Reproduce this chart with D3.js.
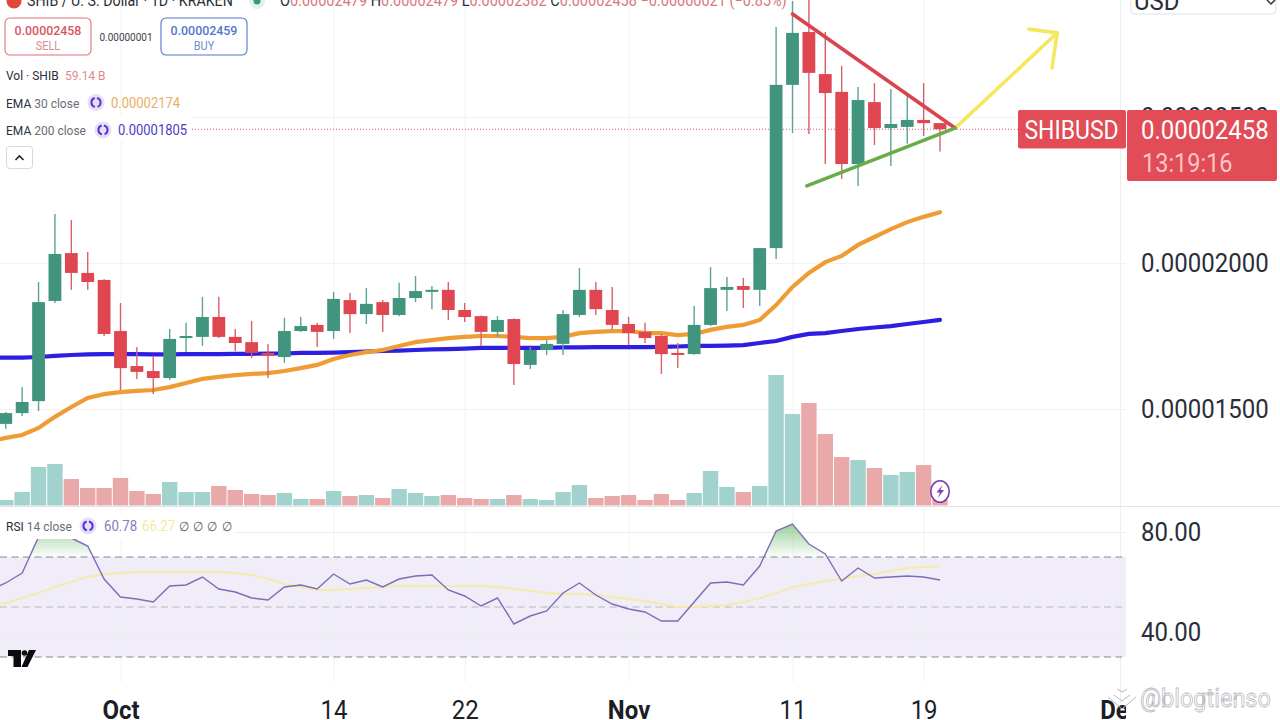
<!DOCTYPE html>
<html><head><meta charset="utf-8">
<script src="https://cdn.jsdelivr.net/npm/d3@7"></script>
<style>
html,body{margin:0;padding:0;background:#fff;overflow:hidden}
svg{display:block}
text{font-family:Roboto,"Liberation Sans",sans-serif;transform-box:fill-box;transform-origin:center;transform:scaleY(1.1)}
</style></head><body>
<svg id="c" width="1280" height="720"></svg>
<script>
// Prices are in units of 0.00000001 USD. First entry (23 Sep) sits just off the left edge.
const firstDay = "2024-09-23", lastDay = "2024-11-21";
const opens  = [1420,1449,1486,1527,1870,2034,1966,1942,1767,1647,1630,1606,1743,1747,1815,1747,1729,1692,1678,1767,1788,1767,1873,1825,1866,1822,1880,1901,1908,1839,1818,1764,1808,1651,1702,1723,1822,1908,1839,1791,1764,1750,1692,1688,1788,1908,1921,1908,2051,2610,2791,2647,2586,2339,2551,2462,2466,2490,2479];
const highs  = [1460,1490,1575,1935,2168,2147,2038,1944,1863,1712,1682,1774,1795,1884,1884,1774,1801,1723,1812,1815,1795,1901,1897,1914,1873,1932,1955,1921,1935,1863,1820,1818,1810,1712,1736,1839,1983,1935,1918,1815,1795,1757,1726,1853,1986,1952,1949,2051,2808,2897,2918,2791,2675,2603,2616,2596,2582,2616,2479];
const lows   = [1400,1432,1476,1493,1863,1908,1908,1750,1565,1603,1551,1599,1695,1716,1743,1699,1675,1606,1658,1764,1712,1740,1760,1791,1764,1818,1866,1842,1805,1798,1716,1747,1582,1637,1685,1685,1815,1822,1771,1719,1726,1620,1640,1686,1784,1836,1846,1853,2014,2445,2442,2339,2288,2264,2404,2332,2408,2435,2382];
const closes = [1449,1486,1524,1866,2031,1966,1935,1757,1640,1627,1606,1740,1750,1815,1747,1726,1692,1682,1767,1784,1764,1877,1825,1860,1822,1880,1904,1908,1839,1815,1764,1805,1654,1702,1723,1825,1908,1842,1788,1760,1743,1688,1685,1788,1914,1918,1908,2051,2610,2788,2651,2582,2339,2558,2462,2476,2490,2479,2458];
const volumes= [59,59,145,414,446,285,188,188,296,156,124,253,145,145,210,167,124,113,134,70,70,156,102,113,81,177,134,102,113,81,70,70,113,70,59,145,220,81,102,113,59,124,59,134,371,199,145,210,1403,984,1102,769,521,489,403,328,360,435,59.14];
const ema30  = [1390,1401,1411,1435,1473,1507,1538,1551,1558,1562,1565,1575,1589,1603,1610,1616,1620,1623,1630,1640,1651,1671,1685,1695,1702,1716,1729,1736,1743,1747,1750,1750,1747,1743,1743,1747,1760,1764,1767,1767,1760,1760,1753,1757,1771,1781,1788,1805,1856,1918,1966,2003,2024,2062,2089,2116,2140,2158,2174];
const ema200 = [1676,1676,1676,1678,1682,1685,1687,1688,1688,1688,1687,1687,1688,1688,1688,1689,1689,1690,1690,1692,1692,1693,1695,1697,1699,1700,1702,1704,1705,1707,1709,1709,1709,1709,1709,1711,1711,1712,1712,1712,1712,1713,1714,1716,1716,1717,1719,1726,1733,1747,1757,1760,1767,1774,1779,1784,1791,1798,1805];
const rsi    = [56.8,59.6,63.6,78,78.8,77.6,74.4,61.2,54,53.2,52,58.4,58.8,62,57.2,56,53.6,52.8,58,58.8,57.2,63.2,59.2,60.8,58,61.2,62.4,62.8,56.8,54.4,50.4,53.6,43.2,46.4,48.4,55.6,59.6,54.8,51.2,49.2,48,44.4,44.4,52,59.6,60,58.8,66.4,80.4,83.2,75.2,71.2,60.4,65.6,61.6,62,62.4,62,60.78];
const rsiMa  = [50.4,51.6,53.6,55.6,58,60,62,63.2,63.6,64,64,64,64,64,64,63.6,62.8,61.2,59.2,58,56.8,56.8,57.2,57.6,58,58.4,58.4,58.4,58.4,58.4,58.4,58,57.2,56.4,55.6,55.2,55.2,54.8,54,53.2,52.4,51.2,50,50,50.4,50.8,52,53.6,55.6,58,59.2,60.4,61.2,62.4,63.2,64.4,65.6,66,66.27];

const priceTicks = [1500,2000,2500];
const rsiTicks = [40,80];
const rsiBands = [30,50,70];
const monthTicks = ["2024-10-01","2024-11-01","2024-12-01"];
const dayTicks = ["2024-10-14","2024-10-22","2024-11-11","2024-11-19"];
const lastPrice = 2458;
// Hand-drawn trend annotations: [time, price]
const resistanceLine = [["2024-11-11T00:00Z",2853],["2024-11-20T22:00Z",2462]];
const supportLine = [["2024-11-11T21:00Z",2264],["2024-11-20T22:00Z",2462]];
const breakoutLine = [["2024-11-20T22:00Z",2462],["2024-11-27T03:30Z",2788]];
const arrowHead = [["2024-11-25T10:00Z",2801],["2024-11-27T03:30Z",2788],["2024-11-26T20:00Z",2668]];

const dates = d3.utcDay.range(new Date(firstDay+"T00:00Z"), new Date(lastDay+"T00:00Z"));
const candles = dates.map((d,i)=>({d,o:opens[i],h:highs[i],l:lows[i],c:closes[i],v:volumes[i]}));
const T = s => new Date(s.length>10 ? s : s+"T00:00Z");

const plotRight = 1126;
const x = d3.scaleUtc().domain([T("2024-10-01"),T("2024-11-11")]).range([120.5,792.5]);
const y = d3.scaleLinear().domain([1500,2000]).range([409,263]);
const yVol = d3.scaleLinear().domain([0,1403]).range([505.5,375]);
const yRsi = d3.scaleLinear().domain([30,70]).range([657,557]);

const GREEN="#41957f",RED="#e0464f",GWICK="#5da493",RWICK="#d8606b",VG="#a2d2cd",VR="#eaa9a9";
const INK="#2a2e39",MUTED="#6a6d78",GRID="#f2f2f4";

const svg = d3.select("#c");
const defs = svg.append("defs");
defs.append("clipPath").attr("id","plot").append("rect").attr("x",0).attr("y",0).attr("width",plotRight).attr("height",506);
defs.append("clipPath").attr("id","labels").append("rect").attr("x",0).attr("y",680).attr("width",plotRight).attr("height",40);
defs.append("clipPath").attr("id","ob").append("rect").attr("x",0).attr("y",515).attr("width",plotRight).attr("height",yRsi(70)-515);
const grad = defs.append("linearGradient").attr("id","obFill")
  .attr("gradientUnits","userSpaceOnUse").attr("x1",0).attr("x2",0).attr("y1",yRsi(83)).attr("y2",yRsi(70));
grad.append("stop").attr("offset",0).attr("stop-color","#8cc98c").attr("stop-opacity",.85);
grad.append("stop").attr("offset",1).attr("stop-color","#8cc98c").attr("stop-opacity",0.03);

// RSI band
svg.append("rect").attr("x",0).attr("width",plotRight).attr("y",yRsi(70)).attr("height",yRsi(30)-yRsi(70)).attr("fill","#f0ecf8");

// grids
const allTicks = monthTicks.concat(dayTicks).map(T).filter(d=>+d<+T("2024-12-01"));
const gridV = svg.append("g").attr("transform","translate(0,682)")
  .call(d3.axisBottom(x).tickValues(allTicks).tickSize(-682).tickFormat(""));
gridV.select(".domain").remove();
gridV.selectAll("line").attr("stroke",GRID).attr("stroke-width",1);
const gridP = svg.append("g").attr("transform",`translate(${plotRight},0)`)
  .call(d3.axisLeft(y).tickValues(priceTicks).tickSize(plotRight).tickFormat(""));
gridP.select(".domain").remove(); gridP.selectAll("line").attr("stroke",GRID);
const gridR = svg.append("g").attr("transform",`translate(${plotRight},0)`)
  .call(d3.axisLeft(yRsi).tickValues(rsiTicks).tickSize(plotRight).tickFormat(""));
gridR.select(".domain").remove(); gridR.selectAll("line").attr("stroke","#ecebf1");

svg.append("line").attr("x1",1120.5).attr("x2",1120.5).attr("y1",0).attr("y2",720).attr("stroke","#eeeef0");
svg.append("line").attr("x1",0).attr("x2",1280).attr("y1",506.5).attr("y2",506.5).attr("stroke","#e2e3e6");

// main pane
const pane = svg.append("g").attr("clip-path","url(#plot)");
pane.append("line").attr("x1",0).attr("x2",1018).attr("y1",y(lastPrice)).attr("y2",y(lastPrice))
  .attr("stroke","#d9596a").attr("stroke-dasharray","1 2").attr("stroke-width",1);

const bw = 15.4;
pane.selectAll("rect.vol").data(candles).join("rect").attr("class","vol")
  .attr("x",d=>x(d.d)-bw/2).attr("width",bw).attr("y",d=>yVol(d.v)).attr("height",d=>yVol(0)-yVol(d.v))
  .attr("fill",d=>d.c>=d.o?VG:VR);

const line = (arr,sy) => d3.line().x((_,i)=>x(dates[i])).y(v=>sy(v))(arr);
pane.append("path").attr("d",line(ema200,y)).attr("fill","none").attr("stroke","#2c1fe2").attr("stroke-width",4.2).attr("stroke-linecap","round");
pane.append("path").attr("d",line(ema30,y)).attr("fill","none").attr("stroke","#f09c34").attr("stroke-width",4.2).attr("stroke-linecap","round");

pane.selectAll("line.wick").data(candles).join("line").attr("class","wick")
  .attr("x1",d=>x(d.d)).attr("x2",d=>x(d.d)).attr("y1",d=>y(d.h)).attr("y2",d=>y(d.l))
  .attr("stroke",d=>d.c>=d.o?GWICK:RWICK).attr("stroke-width",1.4);
const cw = 12.8;
pane.selectAll("rect.body").data(candles).join("rect").attr("class","body")
  .attr("x",d=>x(d.d)-cw/2).attr("width",cw)
  .attr("y",d=>y(Math.max(d.o,d.c))).attr("height",d=>Math.max(1.5,Math.abs(y(d.o)-y(d.c))))
  .attr("fill",d=>d.c>=d.o?GREEN:RED);

// trend drawings
const draw = d3.line().x(p=>x(T(p[0]))).y(p=>y(p[1]));
const stroke = (data,color) => svg.append("path").attr("d",draw(data)).attr("fill","none").attr("stroke",color)
  .attr("stroke-width",3.6).attr("stroke-linecap","round").attr("stroke-linejoin","round");
stroke(breakoutLine,"#f6e85e");
stroke(arrowHead,"#f6e85e");
stroke(resistanceLine,"#d9444e");
stroke(supportLine,"#68ad4a");

// RSI pane
svg.selectAll("line.band").data(rsiBands).join("line").attr("class","band")
  .attr("x1",0).attr("x2",plotRight-4).attr("y1",d=>yRsi(d)).attr("y2",d=>yRsi(d))
  .attr("stroke",d=>d===50?"#b8b8bc":"#85858c").attr("stroke-width",1.1).attr("stroke-dasharray","7 4.5");
svg.append("path").attr("clip-path","url(#ob)")
  .attr("d",d3.area().x((_,i)=>x(dates[i])).y0(yRsi(70)).y1(v=>yRsi(v))(rsi)).attr("fill","url(#obFill)");
svg.append("path").attr("d",line(rsiMa,yRsi)).attr("fill","none").attr("stroke","#f5eba6").attr("stroke-width",1.8);
svg.append("path").attr("d",line(rsi,yRsi)).attr("fill","none").attr("stroke","#7f6cb8").attr("stroke-width",1.4);

// axes
const styleAxis = g => { g.select(".domain").remove(); g.selectAll("line").remove(); };
const yAxis = svg.append("g").attr("transform","translate(1141,0)")
  .call(d3.axisRight(y).tickValues(priceTicks).tickSize(0).tickPadding(0).tickFormat(v=>(v*1e-8).toFixed(8)));
styleAxis(yAxis);
yAxis.selectAll("text").attr("font-size",24).attr("fill",INK);
const rAxis = svg.append("g").attr("transform","translate(1141,0)")
  .call(d3.axisRight(yRsi).tickValues(rsiTicks).tickSize(0).tickPadding(0).tickFormat(d3.format(".2f")));
styleAxis(rAxis);
rAxis.selectAll("text").attr("font-size",24).attr("fill",INK);

const labels = svg.append("g").attr("clip-path","url(#labels)");
const fmt = d => { const m=d3.utcFormat("%b")(d), n=d.getUTCDate(); return n===1?m:String(n); };
const xAxis = labels.append("g").attr("transform","translate(0,701)")
  .call(d3.axisBottom(x).tickValues(monthTicks.concat(dayTicks).map(T)).tickSize(0).tickPadding(0).tickFormat(fmt));
styleAxis(xAxis);
xAxis.selectAll("text").attr("font-size",24).attr("fill","#1b1e27")
  .attr("font-weight",d=>d.getUTCDate()===1?700:400);

// text helper
const tx = (s,xx,yy,size,fill,opts={}) => svg.append("text").text(s).attr("x",xx).attr("y",yy)
  .attr("font-size",size).attr("fill",fill).attr("font-weight",opts.w||400).attr("text-anchor",opts.a||"start");

// top legend
svg.append("rect").attr("x",0).attr("y",116).attr("width",192).attr("height",25).attr("fill","#fff");
svg.append("circle").attr("cx",14).attr("cy",1).attr("r",7.5).attr("fill","#e0493a");
tx("SHIB / U. S. Dollar · 1D · KRAKEN",27,6,14.2,INK);
svg.append("circle").attr("cx",257).attr("cy",1).attr("r",8).attr("fill","#e3f2ee");
svg.append("circle").attr("cx",257).attr("cy",1).attr("r",3.5).attr("fill","#3f9680");
const ohlc = [["O","0.00002479"],["H","0.00002479"],["L","0.00002382"],["C","0.00002458"]];
const o = svg.append("text").attr("x",280).attr("y",6).attr("font-size",14.5);
ohlc.forEach(([k,v])=>{o.append("tspan").text(k).attr("fill",INK);o.append("tspan").text(v+" ").attr("fill","#d9767d");});
o.append("tspan").text("−0.00000021 (−0.85%)").attr("fill","#d9767d");

const box=(xx,c)=>svg.append("rect").attr("x",xx).attr("y",18).attr("width",86).attr("height",37).attr("rx",5).attr("fill","#fff").attr("stroke",c).attr("stroke-width",1.1);
box(5,"#dc7278"); box(161,"#5078cc");
tx("0.00002458",48,35,12.4,"#d8565f",{a:"middle",w:500});
tx("SELL",48,50,11,"#dd8a90",{a:"middle"});
tx("0.00000001",126,41,10,"#3c3f48",{a:"middle"});
tx("0.00002459",204,35,12.4,"#5078cc",{a:"middle",w:500});
tx("BUY",204,50,11,"#6f8fd0",{a:"middle"});

function icon(cx,cy){
  svg.append("circle").attr("cx",cx).attr("cy",cy).attr("r",8.5).attr("fill","#e6dffa");
  const arc=d3.arc().innerRadius(3.6).outerRadius(5.6);
  [[0.2,2.8],[3.4,6.0]].forEach(([a,b])=>svg.append("path").attr("transform",`translate(${cx},${cy})`).attr("d",arc({startAngle:a,endAngle:b})).attr("fill","#5a35cc"));
}
const legendRow=(a,b,yy,iconX,val,valX,col,valSize)=>{
  const t=svg.append("text").attr("x",6).attr("y",yy).attr("font-size",12);
  t.append("tspan").text(a).attr("fill",INK); t.append("tspan").text(b).attr("fill",MUTED);
  if(iconX){ icon(iconX,yy-5); }
  tx(val,valX,yy,valSize,col);
};
legendRow("Vol · SHIB","",80,0,"59.14 B",65,"#dd8a90",12);
legendRow("EMA"," 30 close",107.5,96,"0.00002174",111,"#e9ae63",13);
legendRow("EMA"," 200 close",135,103,"0.00001805",118,"#4a3fc0",13);
svg.append("rect").attr("x",6.5).attr("y",146.5).attr("width",26).attr("height",22).attr("rx",3).attr("fill","#fff").attr("stroke","#d8d9de");
svg.append("path").attr("d","M15.5 160 L19.5 156 L23.5 160").attr("fill","none").attr("stroke","#222").attr("stroke-width",1.6);

// RSI legend
svg.append("rect").attr("x",0).attr("y",514).attr("width",236).attr("height",25).attr("fill","#fff");
legendRow("RSI"," 14 close",531,88,"60.78",104,"#8a78c0",13.2);
tx("66.27",142,531,13.2,"#f3eaa2");
["∅","∅","∅","∅"].forEach((s,i)=>tx(s,179+i*14.2,531,12,"#55585f"));

// USD selector
svg.append("rect").attr("x",1131).attr("y",-6).attr("width",145).attr("height",20).attr("rx",4).attr("fill","#fff").attr("stroke","#e0e1e5");
tx("USD",1134,9,24,INK);
svg.append("path").attr("d","M1267 0 L1271 4 L1275 0").attr("fill","none").attr("stroke","#333").attr("stroke-width",1.5);

// last price tags
svg.append("rect").attr("x",1018).attr("y",110).attr("width",108).attr("height",38.5).attr("rx",2).attr("fill","#e14c56");
svg.append("rect").attr("x",1127).attr("y",110).attr("width",150).attr("height",71).attr("rx",2).attr("fill","#e14c56");
tx("SHIBUSD",1071.5,138,23,"#fff",{a:"middle"});
tx((lastPrice*1e-8).toFixed(8),1141,138,24,"#fff");
tx("13:19:16",1142,171,23.5,"#f9c6ca");

// lightning badge
svg.append("ellipse").attr("cx",940).attr("cy",491.5).attr("rx",9.2).attr("ry",10.8).attr("fill","#fff").attr("stroke","#7b3fb0").attr("stroke-width",1.6);
svg.append("path").attr("d","M942.5 485 L936.5 492.5 L940 492.5 L937.8 498 L944 490 L940.5 490 Z").attr("fill","#7b3fb0");

// TradingView logo
svg.append("path").attr("fill","#0b0b0f").attr("d","M8 650 H21 V667 H13.5 V656 H8 Z M36 650 L27.5 667 H21.5 L29 650 Z");
svg.append("circle").attr("cx",24.5).attr("cy",653).attr("r",2.8).attr("fill","#0b0b0f");

// watermark
svg.append("text").text("@blogtienso").attr("x",1140).attr("y",706).attr("font-size",23.5)
  .attr("fill","none").attr("stroke","#b4b4b8").attr("stroke-width",.7);
const wm = svg.append("g").attr("fill","none").attr("stroke","#b8b8bc").attr("stroke-width",1);
["M1108 697 L1122 709 L1136 697","M1114 695 L1122 701 L1130 695","M1117 689 L1122 692 L1127 689"].forEach(d=>wm.append("path").attr("d",d));
</script></body></html>
